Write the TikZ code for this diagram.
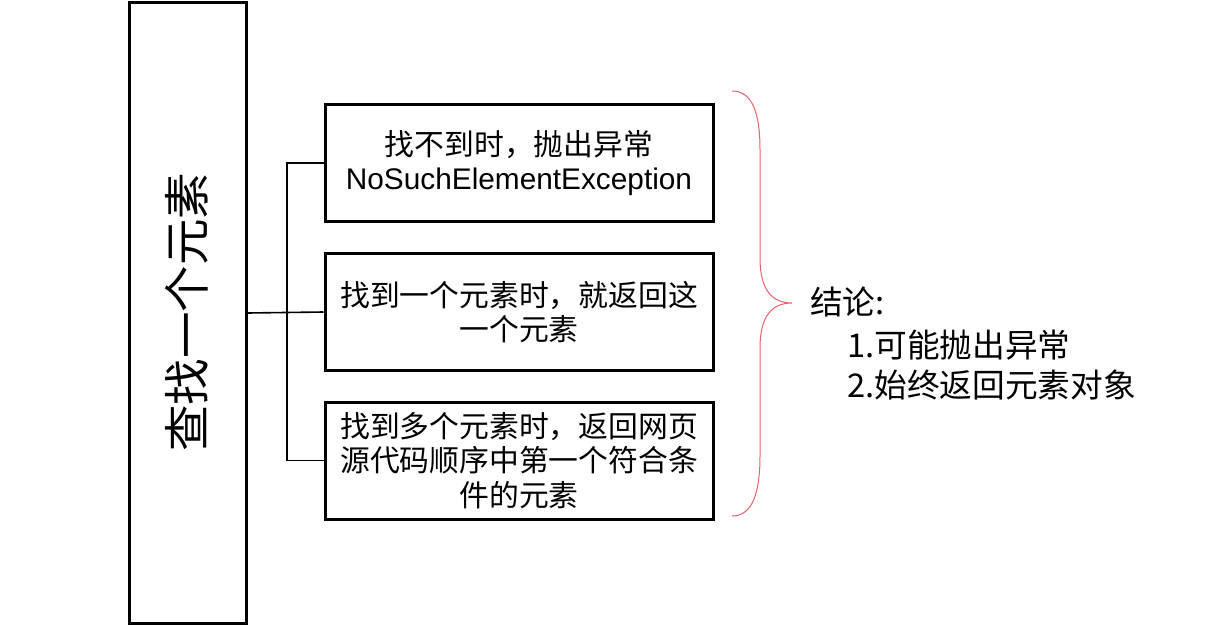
\documentclass[tikz,border=0pt]{standalone}
\usepackage{fontspec}
\setmainfont{Liberation Sans}
\newfontfamily\cjk{Noto Sans CJK SC}
\usepackage{xcolor}
\usepackage{tikz}
\usetikzlibrary{calc}
\definecolor{braceRed}{RGB}{232,96,108}
\definecolor{inkbox}{RGB}{0,0,0}

\begin{document}
\begin{tikzpicture}[x=1pt,y=-1pt,
    rootbox/.style={draw=inkbox,line width=3pt,minimum width=117pt,minimum height=621pt,inner sep=0pt},
    casebox/.style={draw=inkbox,line width=3pt,minimum width=388pt,minimum height=117pt,
      align=center,inner sep=0pt,font=\cjk\fontsize{29.8}{34.5}\selectfont},
    link/.style={draw=inkbox,line width=1.6pt},
    notetext/.style={anchor=west,inner sep=0pt,font=\cjk\fontsize{32.7}{40}\selectfont}]
  \useasboundingbox (0,0) rectangle (1211,626);
  % the tall box on the left
  \node[rootbox] (root) at (188,313) {};
  \node[rotate=90,inner sep=0pt,font=\cjk\fontsize{46.5}{50}\selectfont] (rootlbl) at (187,312) {查找一个元素};
  % three cases
  \node[casebox] (notfound) at (519,163) {找不到时，抛出异常\\{\rmfamily NoSuchElementException}};
  \node[casebox] (foundone) at (519,312) {找到一个元素时，就返回这\\一个元素};
  \node[casebox] (foundmany) at (519,460.5) {找到多个元素时，返回网页\\源代码顺序中第一个符合条\\件的元素};
  % connectors
  \coordinate (fork) at (287,313);
  \draw[link] (root.east) -- (foundone.west);
  \draw[link] (notfound.west) -| (fork) |- (foundmany.west);
  % brace
  \coordinate (bracetop) at (732,91);
  \coordinate (bracetip) at (792,303);
  \coordinate (bracebot) at (732,516);
  \draw[braceRed,line width=1pt]
    (bracetop) .. controls (752,91) and (760,112) .. (760,150)
    -- (760,258) .. controls (760,290) and (772,303) .. (bracetip)
    .. controls (772,303) and (760,316) .. (760,348)
    -- (760,456) .. controls (760,494) and (752,516) .. (bracebot);
  % conclusion
  \node[notetext] (concl) at (810,302) {结论:};
  \node[notetext] (pointone) at (847,345) {1.可能抛出异常};
  \node[notetext] (pointtwo) at (847,385) {2.始终返回元素对象};
\end{tikzpicture}
\end{document}
